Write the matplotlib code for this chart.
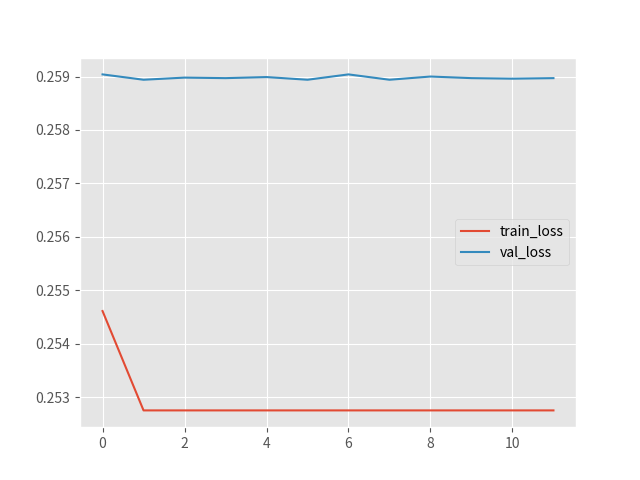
import matplotlib
matplotlib.use("Agg")
import matplotlib.pyplot as plt

plt.style.use("ggplot")
plt.rcParams['font.family'] = ['Noto Sans CJK SC', 'DejaVu Sans']
plt.rcParams['axes.unicode_minus'] = False

epochs = list(range(12))
train_loss = [0.25461, 0.25275, 0.25275, 0.25275, 0.25275, 0.25275, 0.25275, 0.25275, 0.25275, 0.25275, 0.25275, 0.25275]
val_loss = [0.25904, 0.25894, 0.25898, 0.25897, 0.25899, 0.25894, 0.25904, 0.25894, 0.25900, 0.25897, 0.25896, 0.25897]

fig = plt.figure(figsize=(6.4, 4.8), dpi=100)
plt.plot(epochs, train_loss, label="train_loss")
plt.plot(epochs, val_loss, label="val_loss")
plt.legend(loc="center right")
plt.savefig("out.png")
